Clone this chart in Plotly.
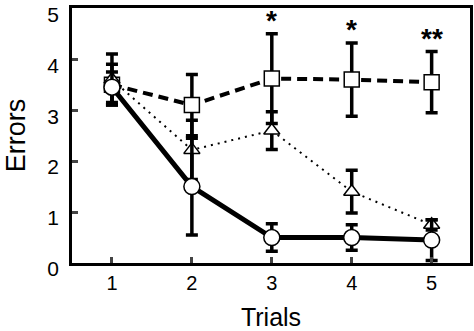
import plotly.graph_objects as go

trials = [1, 2, 3, 4, 5]
circle_mean = [3.45, 1.5, 0.5, 0.5, 0.45]
circle_err = [0.3, 0.95, 0.27, 0.25, 0.4]
triangle_mean = [3.6, 2.22, 2.6, 1.4, 0.75]
triangle_err = [0.5, 0.58, 0.37, 0.42, 0.1]
square_mean = [3.5, 3.1, 3.62, 3.6, 3.55]
square_err = [0.4, 0.6, 0.88, 0.72, 0.6]
sig_labels = ["", "", "*", "*", "**"]

FONT = "Liberation Sans"

fig = go.Figure()

fig.add_trace(go.Scatter(
    x=trials, y=square_mean, mode="lines+markers",
    line=dict(color="black", width=4, dash="10px,6px"),
    marker=dict(symbol="square", size=15, color="white", line=dict(color="black", width=1.5)),
    error_y=dict(type="data", array=square_err, visible=True, color="black", thickness=3.5, width=6),
))
fig.add_trace(go.Scatter(
    x=trials, y=triangle_mean, mode="lines+markers",
    line=dict(color="black", width=2, dash="2px,5px"),
    marker=dict(symbol="triangle-up", size=14, color="white", line=dict(color="black", width=1.5)),
    error_y=dict(type="data", array=triangle_err, visible=True, color="black", thickness=3.5, width=6),
))
fig.add_trace(go.Scatter(
    x=trials, y=circle_mean, mode="lines+markers",
    line=dict(color="black", width=5),
    marker=dict(symbol="circle", size=16, color="white", line=dict(color="black", width=1.5)),
    error_y=dict(type="data", array=circle_err, visible=True, color="black", thickness=3.5, width=6),
))

for t, lab, m, e in zip(trials, sig_labels, square_mean, square_err):
    if lab:
        fig.add_annotation(x=t, y=m + e, text="<b>" + lab + "</b>", showarrow=False, yanchor="bottom",
                           yshift=-4, font=dict(family=FONT, size=28, color="black"))

fig.update_layout(
    width=474, height=331,
    margin=dict(l=72, r=4, t=8, b=68),
    paper_bgcolor="white", plot_bgcolor="white",
    showlegend=False,
    font=dict(family=FONT, color="black"),
    xaxis=dict(range=[0.5, 5.48], tickvals=trials, ticks="inside", ticklen=6, tickwidth=3,
               showline=True, linewidth=2.5, linecolor="black", mirror=True, showgrid=False,
               zeroline=False, tickfont=dict(size=20, family=FONT), automargin=False,
               title=dict(text="Trials", font=dict(size=25, family=FONT), standoff=16)),
    yaxis=dict(range=[0, 5.005], tickvals=[0, 1, 2, 3, 4, 5], ticks="inside", ticklen=6, tickwidth=3,
               showline=True, linewidth=2.5, linecolor="black", mirror=True, showgrid=False,
               zeroline=False, tickfont=dict(size=21, family=FONT), ticklabelshift=6,
               ticklabelstandoff=6, ticklabeloverflow="allow", automargin=False,
               title=dict(text="Errors", font=dict(size=27, family=FONT), standoff=14)),
)

fig.write_html("out.html")
